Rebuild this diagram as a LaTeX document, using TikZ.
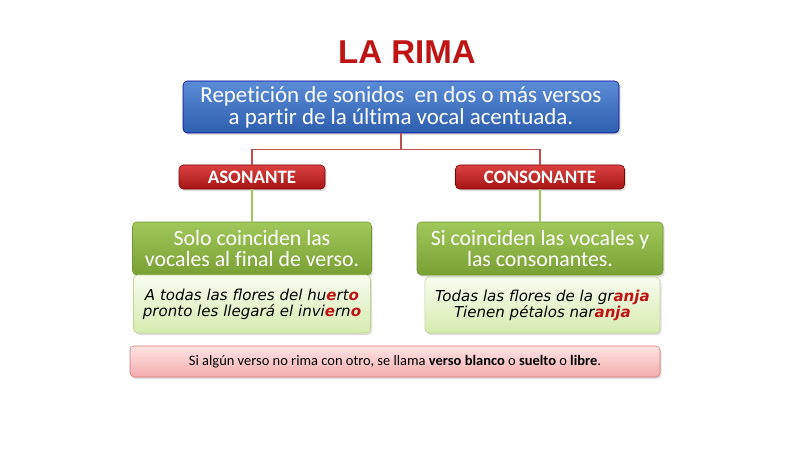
\documentclass[tikz,border=0pt]{standalone}
\usepackage{fontspec}
\setmainfont{Carlito}[Ligatures=NoCommon]
\newfontfamily\titlefont{Liberation Sans}
\newfontfamily\handfont{DejaVu Sans}
\usepackage{tikz}
\usetikzlibrary{calc}
\usetikzlibrary{shadows}
\definecolor{rimaRed}{RGB}{190,20,20}
\definecolor{treeRed}{RGB}{190,80,80}
\definecolor{treeGreen}{RGB}{160,200,95}
\newcommand{\rim}[1]{{\color{rimaRed}\bfseries #1}}
\tikzset{%
  	% Specifications for style of nodes:
	base/.style = {rectangle, rounded corners=3pt, draw,
				   text centered, align=center,
				   drop shadow={opacity=0.25, shadow xshift=0.04cm, shadow yshift=-0.05cm}},
	definition/.style = {base, draw=blue!60!black, top color={rgb,255:red,90;green,140;blue,215},
				   bottom color={rgb,255:red,45;green,95;blue,175}, text=white,
				   minimum width=10.9cm, minimum height=1.3cm, font=\fontsize{16.3}{15.8}\selectfont},
	kind/.style = {base, draw=red!50!black, top color={rgb,255:red,220;green,65;blue,65},
				   bottom color={rgb,255:red,165;green,20;blue,20}, text=white,
				   minimum height=0.6cm, font=\fontsize{13.5}{14}\selectfont\bfseries},
	rule/.style = {base, draw={rgb,255:red,115;green,150;blue,50}, top color={rgb,255:red,160;green,200;blue,90},
				   bottom color={rgb,255:red,120;green,160;blue,50}, text=white,
				   minimum height=1.325cm, font=\fontsize{15.5}{14.4}\selectfont},
	sample/.style = {base, draw={rgb,255:red,190;green,210;blue,150}, top color={rgb,255:red,248;green,252;blue,240},
				   bottom color={rgb,255:red,215;green,235;blue,175},
				   font=\handfont\itshape\fontsize{10.7}{11.5}\selectfont},
	note/.style = {base, draw={rgb,255:red,215;green,120;blue,120}, top color={rgb,255:red,255;green,228;blue,228},
				   bottom color={rgb,255:red,245;green,172;blue,172},
				   minimum width=13.25cm, minimum height=0.775cm, font=\fontsize{10.3}{12}\selectfont},
	branch/.style = {draw=treeRed, line width=0.9pt},
	stem/.style = {draw=treeGreen, line width=0.9pt},
}
\begin{document}
\begin{tikzpicture}[node distance=1.75cm]
	\useasboundingbox (0,0) rectangle (20,11.25);

  	% Specification of nodes (position, etc.)

	\node (definition) [definition] at (10.025,8.575) {Repetición de sonidos\ \ en dos o más versos\\a partir de la última vocal acentuada.};
	\node (title)      [above of=definition, yshift=-0.375cm, xshift=0.15cm, text=rimaRed,
	                    font=\titlefont\bfseries\fontsize{23.5}{25}\selectfont] {LA RIMA};
	\node (asonante)   [kind, minimum width=3.65cm, below of=definition, xshift=-3.725cm] {ASONANTE};
	\node (consonante) [kind, minimum width=4.225cm, below of=definition, xshift=3.475cm] {CONSONANTE};
	\node (asoRule)    [rule, minimum width=5.975cm, below of=asonante, yshift=-0.0375cm] {Solo coinciden las\\vocales al final de verso.};
	\node (conRule)    [rule, minimum width=6.15cm, below of=consonante, yshift=-0.0375cm] {Si coinciden las vocales y\\las consonantes.};
	\node (asoSample)  [sample, minimum width=5.925cm, minimum height=1.45cm, below of=asoRule, yshift=0.3625cm]
	                   {A todas las flores del hu\rim{e}rt\rim{o}\\pronto les llegará el invi\rim{e}rn\rim{o}};
	\node (conSample)  [sample, minimum width=5.875cm, minimum height=1.4cm, below of=conRule, yshift=0.3375cm, xshift=0.06cm]
	                   {Todas las flores de la gr\rim{anja}\\Tienen pétalos nar\rim{anja}};
	\node (blankVerse) [note, below of=definition, yshift=-4.6125cm, xshift=-0.15cm]
	                   {Si algún verso no rima con otro, se llama \textbf{verso blanco} o \textbf{suelto} o \textbf{libre}.};

    % Specification of lines between nodes specified above

	\draw[branch] (definition.south) -- ++(0,-0.4) -| (asonante.north);
	\draw[branch] (definition.south) -- ++(0,-0.4) -| (consonante.north);
	\draw[stem]   (asonante.south) -- (asoRule.north);
	\draw[stem]   (consonante.south) -- (conRule.north);

\end{tikzpicture}
\end{document}
